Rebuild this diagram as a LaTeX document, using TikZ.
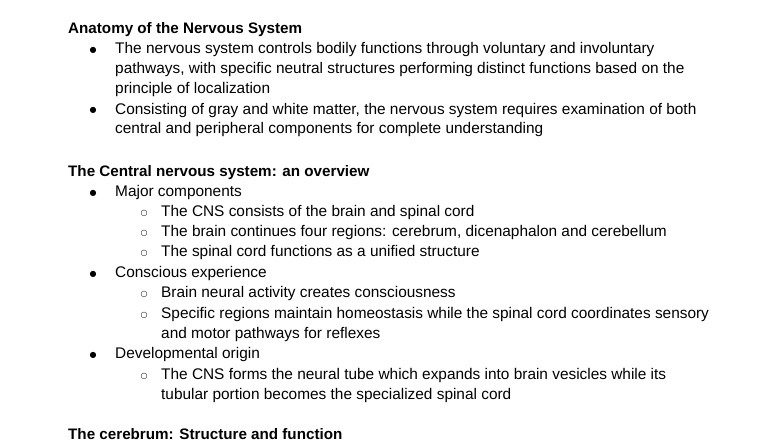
\documentclass[tikz,border=0pt]{standalone}
\usepackage{fontspec}
\setmainfont{Liberation Sans}
\newfontfamily\symfont{DejaVu Sans}
\usetikzlibrary{positioning}
\tikzset{
    line/.style={anchor=base west, inner sep=0pt, font=\fontsize{15.4}{18}\selectfont},
    head/.style={line, font=\fontsize{15.2}{18}\selectfont\bfseries},
    dot/.style={anchor=base, inner sep=0pt, font=\fontsize{8}{10}\symfont},
}
\begin{document}
\begin{tikzpicture}[x=1pt,y=-1pt]
    \useasboundingbox (0,0) rectangle (784,441);

    % first section
    \node[head] (H1) at (68,34) {Anatomy of the Nervous System};
    \node[dot] (b1) at (93,53) {●};
    \node[line] (L1) at (115,54) {The nervous system controls bodily functions through voluntary and involuntary};
    \node[line] (L2) at (115,74) {pathways, with specific neutral structures performing distinct functions based on the};
    \node[line] (L3) at (115,94) {principle of localization};
    \node[dot] (b2) at (93,113) {●};
    \node[line] (L4) at (115,114) {Consisting of gray and white matter, the nervous system requires examination of both};
    \node[line] (L5) at (115,134) {central and peripheral components for complete understanding};

    % second section
    \node[head] (H2) at (68,176) {The Central nervous system: an overview};
    \node[dot] (b3) at (93,195) {●};
    \node[line] (M1) at (115,196) {Major components};
    \node[dot] (c1) at (144,215) {○};
    \node[line] (M2) at (161,216) {The CNS consists of the brain and spinal cord};
    \node[dot] (c2) at (144,235) {○};
    \node[line] (M3) at (161,236) {The brain continues four regions: cerebrum, dicenaphalon and cerebellum};
    \node[dot] (c3) at (144,255) {○};
    \node[line] (M4) at (161,256) {The spinal cord functions as a unified structure};
    \node[dot] (b4) at (93,276) {●};
    \node[line] (C1) at (115,277) {Conscious experience};
    \node[dot] (c4) at (144,296) {○};
    \node[line] (C2) at (161,297) {Brain neural activity creates consciousness};
    \node[dot] (c5) at (144,317) {○};
    \node[line] (C3) at (161,318) {Specific regions maintain homeostasis while the spinal cord coordinates sensory};
    \node[line] (C4) at (161,338) {and motor pathways for reflexes};
    \node[dot] (b5) at (93,357) {●};
    \node[line] (D1) at (115,358) {Developmental origin};
    \node[dot] (c6) at (144,378) {○};
    \node[line] (D2) at (161,379) {The CNS forms the neural tube which expands into brain vesicles while its};
    \node[line] (D3) at (161,399) {tubular portion becomes the specialized spinal cord};

    % third section
    \node[head] (H3) at (68,439) {The cerebrum: Structure and function};
\end{tikzpicture}
\end{document}
